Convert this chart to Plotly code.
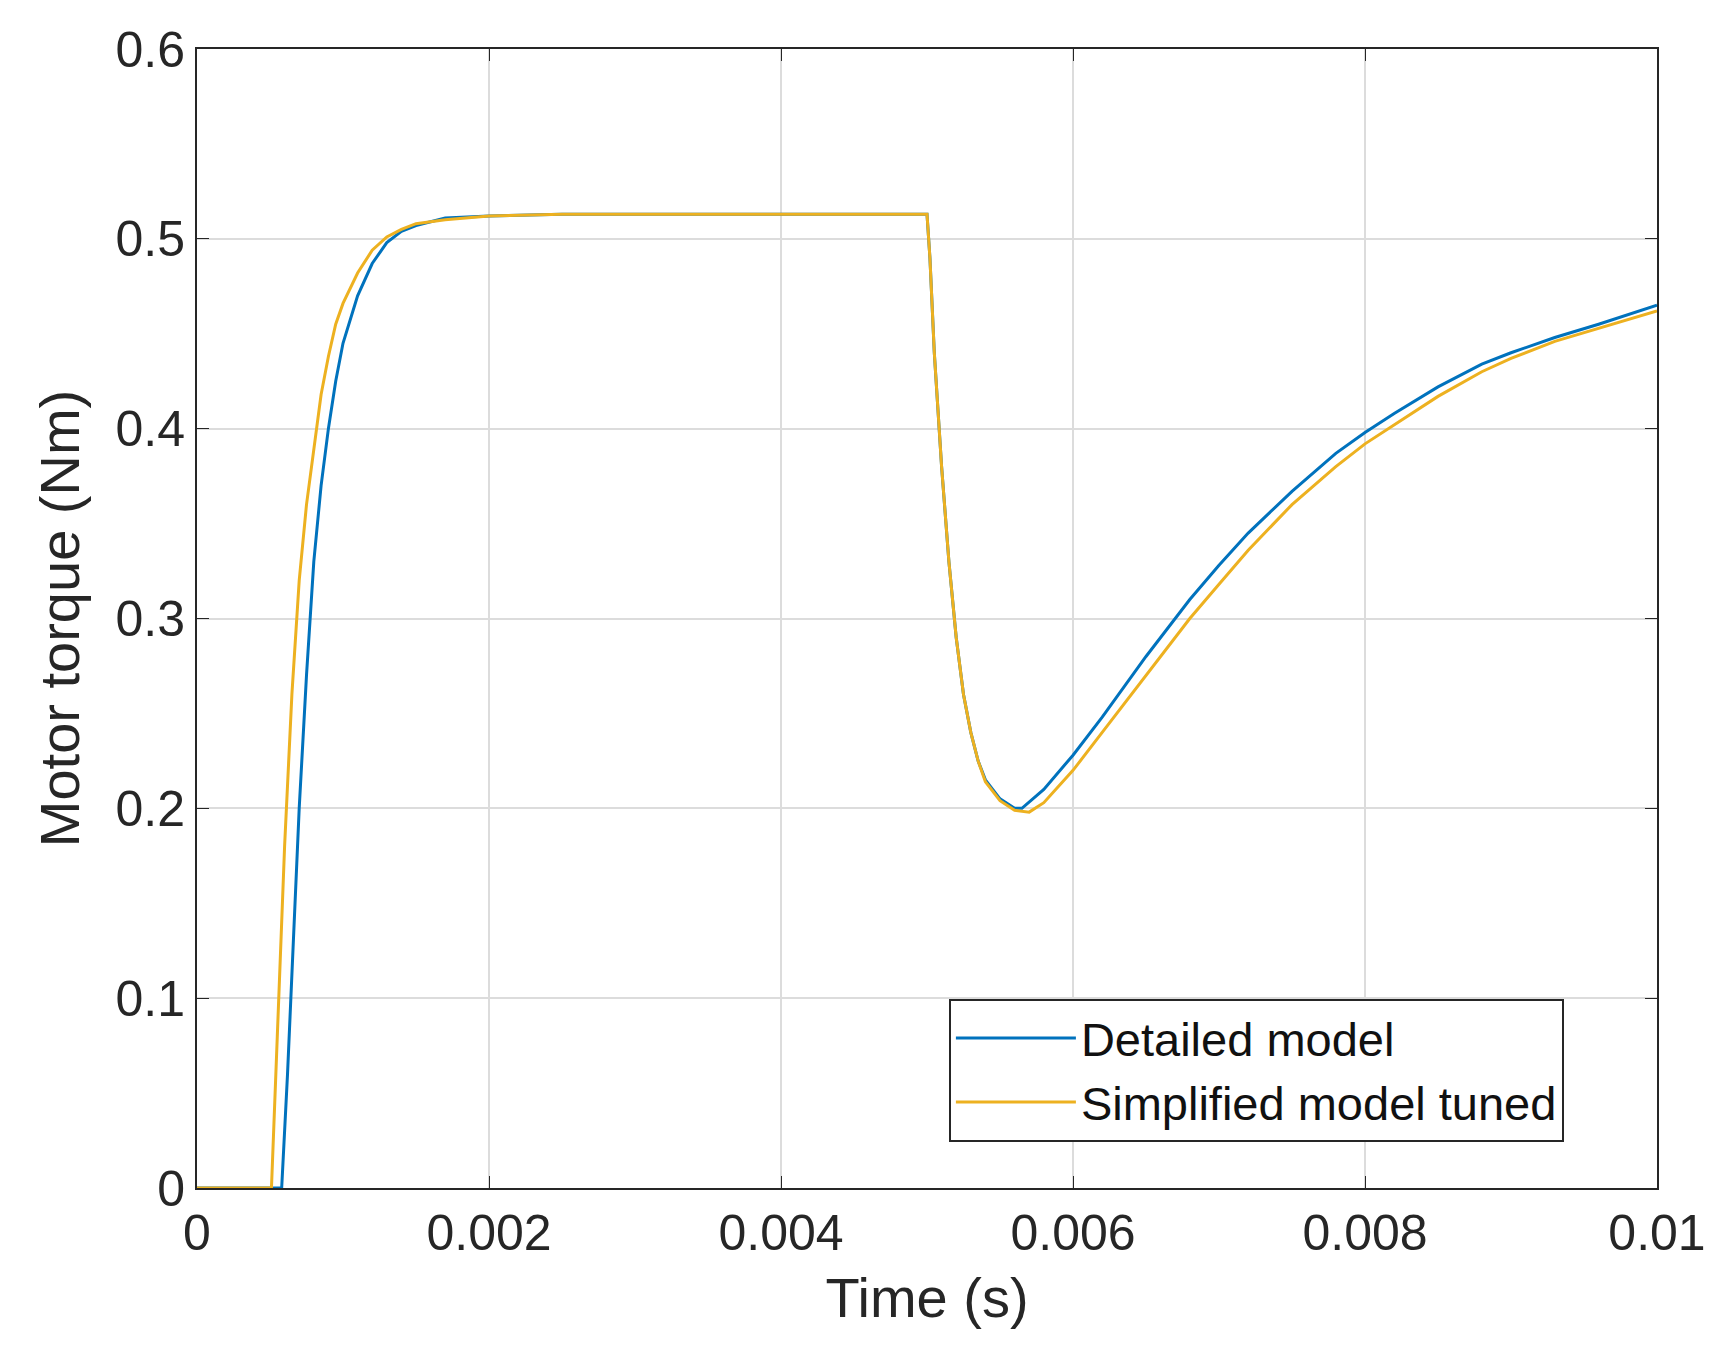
import plotly.graph_objects as go

t_detailed = [0, 0.00057, 0.00058, 0.00062, 0.00066, 0.0007, 0.00075, 0.0008, 0.00085, 0.0009, 0.00095, 0.001, 0.0011, 0.0012, 0.0013, 0.0014, 0.0015, 0.0017, 0.002, 0.0025, 0.003, 0.004, 0.005,
              0.00502, 0.00505, 0.0051, 0.00515, 0.0052, 0.00525, 0.0053, 0.00535, 0.0054, 0.0055, 0.0056, 0.00565, 0.0058, 0.006, 0.0062, 0.0065, 0.0068, 0.007, 0.0072, 0.0075, 0.0078, 0.008, 0.0082, 0.0085, 0.0088, 0.009, 0.0093, 0.0096, 0.01]
y_detailed = [0, 0, 0.0, 0.06, 0.13, 0.2, 0.27, 0.33, 0.37, 0.40, 0.425, 0.445, 0.47, 0.487, 0.498, 0.504, 0.507, 0.511, 0.512, 0.513, 0.513, 0.513, 0.513,
              0.49, 0.44, 0.38, 0.33, 0.29, 0.26, 0.24, 0.225, 0.215, 0.205, 0.2, 0.2, 0.21, 0.228, 0.248, 0.28, 0.31, 0.328, 0.345, 0.367, 0.387, 0.398, 0.408, 0.422, 0.434, 0.44, 0.448, 0.455, 0.465]
t_simplified = [0, 0.0005, 0.00051, 0.00055, 0.0006, 0.00065, 0.0007, 0.00075, 0.0008, 0.00085, 0.0009, 0.00095, 0.001, 0.0011, 0.0012, 0.0013, 0.0014, 0.0015, 0.0017, 0.002, 0.0025, 0.003, 0.004, 0.005,
                0.00502, 0.00505, 0.0051, 0.00515, 0.0052, 0.00525, 0.0053, 0.00535, 0.0054, 0.0055, 0.0056, 0.0057, 0.0058, 0.006, 0.0062, 0.0065, 0.0068, 0.007, 0.0072, 0.0075, 0.0078, 0.008, 0.0082, 0.0085, 0.0088, 0.009, 0.0093, 0.0096, 0.01]
y_simplified = [0, 0, 0.0, 0.08, 0.18, 0.26, 0.32, 0.36, 0.39, 0.418, 0.438, 0.455, 0.466, 0.482, 0.494, 0.501, 0.505, 0.508, 0.51, 0.512, 0.513, 0.513, 0.513, 0.513,
                0.49, 0.44, 0.38, 0.33, 0.29, 0.26, 0.24, 0.225, 0.214, 0.204, 0.199, 0.198, 0.203, 0.22, 0.24, 0.27, 0.3, 0.318, 0.336, 0.36, 0.38, 0.392, 0.402, 0.417, 0.43, 0.437, 0.446, 0.453, 0.462]

x_ticks = [0, 0.002, 0.004, 0.006, 0.008, 0.01]
x_labels = ["0", "0.002", "0.004", "0.006", "0.008", "0.01"]
y_ticks = [0, 0.1, 0.2, 0.3, 0.4, 0.5, 0.6]
y_labels = ["0", "0.1", "0.2", "0.3", "0.4", "0.5", "0.6"]

fig = go.Figure()
fig.add_trace(go.Scatter(x=t_detailed, y=y_detailed, mode="lines", name="Detailed model",
                         line=dict(color="#0072BD", width=3)))
fig.add_trace(go.Scatter(x=t_simplified, y=y_simplified, mode="lines", name="Simplified model tuned",
                         line=dict(color="#EDB120", width=3)))

font = "Liberation Sans, Arial, sans-serif"
axis_common = dict(showline=True, linecolor="#262626", linewidth=2, mirror="ticks", ticks="inside",
                   ticklen=12, tickcolor="#262626", showgrid=True, gridcolor="#dcdcdc", gridwidth=2,
                   zeroline=False, tickfont=dict(size=50, color="#262626", family=font))
fig.update_layout(
    width=1713, height=1370, paper_bgcolor="white", plot_bgcolor="white",
    margin=dict(l=189, r=64, t=41, b=190),
    font=dict(family=font, color="#262626"),
    xaxis=dict(range=[0, 0.01], tickvals=x_ticks, ticktext=x_labels,
               title=dict(text="Time (s)", font=dict(size=56), standoff=18), **axis_common),
    yaxis=dict(range=[0, 0.6], tickvals=y_ticks, ticktext=y_labels,
               title=dict(text="Motor torque (Nm)", font=dict(size=56), standoff=18), **axis_common),
    legend=dict(x=0.515, y=0.166, xanchor="left", yanchor="top", bgcolor="white",
                bordercolor="#262626", borderwidth=2, font=dict(size=47, color="#111"),
                tracegroupgap=0, itemwidth=120),
)
fig.write_html("out.html")
